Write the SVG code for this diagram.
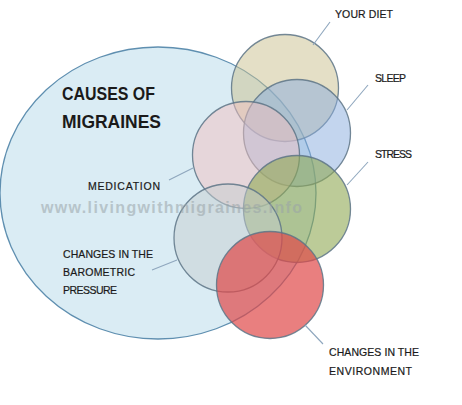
<svg xmlns="http://www.w3.org/2000/svg" width="462" height="405" viewBox="0 0 462 405">
<style>
.lbl{font-family:"Liberation Sans",Arial,sans-serif;font-size:10.5px;fill:#1a1a1a;stroke:#1a1a1a;stroke-width:0.2}
.title{font-family:"Liberation Sans",Arial,sans-serif;font-size:19px;font-weight:bold;fill:#1a1a1a}
.wm{font-family:"Liberation Sans",Arial,sans-serif;font-size:16px;font-weight:bold;fill:#9aa4a8;opacity:0.55}
.c{stroke:#5d7486;stroke-width:1.3;stroke-opacity:0.85}
.ln{stroke:#8ea6bd;stroke-width:1.1;fill:none}
</style>
<rect width="462" height="405" fill="#ffffff"/>
<g id="causes">
<ellipse cx="158" cy="193" rx="158" ry="146" fill="#daecf4" stroke="#5f8fb0" stroke-width="1.3"/>
<text class="title" x="62" y="100" textLength="93" lengthAdjust="spacingAndGlyphs">CAUSES OF</text>
<text class="title" x="62" y="128" textLength="99" lengthAdjust="spacingAndGlyphs">MIGRAINES</text>
</g>
<g id="diet"><circle class="c" cx="285" cy="88" r="53.5" fill="#c9c08e" fill-opacity="0.5"/></g>
<g id="sleep"><circle class="c" cx="297" cy="133" r="53.5" fill="#87abdd" fill-opacity="0.5"/></g>
<g id="medication"><circle class="c" cx="246" cy="155" r="53.5" fill="#f2c0c0" fill-opacity="0.5"/></g>
<g id="stress"><circle class="c" cx="297" cy="209" r="53.5" fill="#8fa853" fill-opacity="0.6"/></g>
<g id="barometric"><circle class="c" cx="228" cy="238" r="54" fill="#c6ced0" fill-opacity="0.5"/></g>
<g id="environment"><circle class="c" cx="270" cy="285" r="53.5" fill="#e04848" fill-opacity="0.7"/></g>
<g id="connectors">
<line class="ln" x1="313" y1="45" x2="330" y2="22"/>
<line class="ln" x1="347" y1="110" x2="368" y2="85"/>
<line class="ln" x1="347" y1="185" x2="368" y2="162"/>
<line class="ln" x1="169" y1="180" x2="193" y2="168"/>
<line class="ln" x1="152" y1="270" x2="177" y2="260"/>
<line class="ln" x1="305" y1="325" x2="323" y2="344"/>
</g>
<g id="labels">
<text class="lbl" x="335" y="18" textLength="58">YOUR DIET</text>
<text class="lbl" x="375" y="82" textLength="31">SLEEP</text>
<text class="lbl" x="375" y="158" textLength="37">STRESS</text>
<text class="lbl" x="88" y="190" textLength="72">MEDICATION</text>
<text class="lbl" x="63" y="258" textLength="90">CHANGES IN THE</text>
<text class="lbl" x="63" y="276" textLength="72">BAROMETRIC</text>
<text class="lbl" x="63" y="294" textLength="54">PRESSURE</text>
<text class="lbl" x="329" y="356" textLength="90">CHANGES IN THE</text>
<text class="lbl" x="329" y="375" textLength="83">ENVIRONMENT</text>
</g>
<text class="wm" x="41" y="213" textLength="261" lengthAdjust="spacing">www.livingwithmigraines.info</text>
</svg>
